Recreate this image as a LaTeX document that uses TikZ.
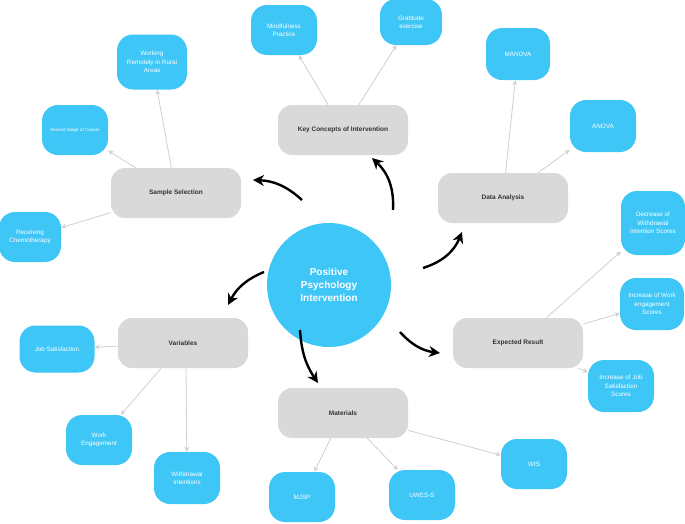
\documentclass[tikz,border=0pt]{standalone}
\usepackage{fontspec}
\setmainfont{Liberation Sans}
\usetikzlibrary{arrows.meta}
\definecolor{cblue}{HTML}{3EC6F7}
\definecolor{cgray}{HTML}{D9D9D9}
\definecolor{cline}{HTML}{CFCFCF}
\begin{document}
\begin{tikzpicture}[x=1pt,y=-1pt,
 gbox/.style={fill=cgray,rounded corners=14pt,minimum width=130pt,minimum height=50pt,font=\fontsize{6.5}{8}\selectfont\bfseries,text=black!80,align=center},
 bbox/.style={fill=cblue,rounded corners=16pt,minimum width=66pt,minimum height=50pt,font=\fontsize{6.3}{8.5}\selectfont,text=white,align=center},
 thin/.style={draw=cline,line width=0.8pt,-{Stealth[length=5pt,width=5pt,open]}},
 thick/.style={line width=2.4pt,-{Stealth[length=11pt,width=11pt]}}]
\useasboundingbox (0,0) rectangle (685,523);
\node[circle,fill=cblue,minimum size=124pt,text=white,align=center,font=\fontsize{10}{13}\selectfont\bfseries] (c) at (329,285) {Positive\\Psychology\\Intervention};
\node[gbox] (key) at (343,130) {Key Concepts of Intervention};
\node[gbox] (samp) at (176,193) {Sample Selection};
\node[gbox] (data) at (503,198) {Data Analysis};
\node[gbox] (var) at (183,343) {Variables};
\node[gbox] (exp) at (518,343) {Expected Result};
\node[gbox] (mat) at (343,413) {Materials};
\node[bbox] (mind) at (284,30) {Mindfulness\\Practice};
\node[bbox,minimum width=62pt,minimum height=46pt] (grat) at (411,22) {Gratitude\\exercise};
\node[bbox,minimum width=70pt,minimum height=55pt] (work) at (152,62) {Working\\Remotely in Rural\\Areas};
\node[bbox,font=\fontsize{4.5}{6}\selectfont] (sec) at (75,130) {Second Stage of Cancer};
\node[bbox,minimum width=62pt] (chem) at (30,237) {Receiving\\Chemotherapy};
\node[bbox,minimum width=64pt,minimum height=52pt] (man) at (518,54) {MANOVA};
\node[bbox,minimum height=52pt] (ano) at (603,126) {ANOVA};
\node[bbox,minimum width=64pt,minimum height=64pt] (dec) at (653,223) {Decrease of\\Withdrawal\\Intention Scores};
\node[bbox,minimum width=64pt,minimum height=52pt] (inw) at (652,304) {Increase of Work\\engagement\\Scores};
\node[bbox,minimum width=66pt,minimum height=52pt] (inj) at (621,386) {Increase of Job\\Satisfaction\\Scores};
\node[bbox,minimum width=75pt,minimum height=47pt] (js) at (57,349) {Job Satisfaction};
\node[bbox] (we) at (99,440) {Work\\Engagement};
\node[bbox,minimum height=52pt] (wi) at (187,478) {Withdrawal\\Intentions};
\node[bbox] (mjsp) at (302,497) {MJSP};
\node[bbox] (uwes) at (422,495) {UWES-S};
\node[bbox] (wis) at (534,464) {WIS};
\draw[thin] (key) -- (mind); \draw[thin] (key) -- (grat);
\draw[thin] (samp) -- (work); \draw[thin] (samp) -- (sec); \draw[thin] (samp) -- (chem);
\draw[thin] (data) -- (man); \draw[thin] (data) -- (ano);
\draw[thin] (exp) -- (dec); \draw[thin] (exp) -- (inw); \draw[thin] (exp) -- (inj);
\draw[thin] (var) -- (js); \draw[thin] (var) -- (we); \draw[thin] ([xshift=3pt]var.south) -- (wi);
\draw[thin] (mat) -- (mjsp); \draw[thin] (mat) -- (uwes); \draw[thin] (mat) -- (wis);
\coordinate (a1) at (393,210); \coordinate (a2) at (302,200); \coordinate (a3) at (423,268);
\coordinate (a4) at (264,272); \coordinate (a5) at (300,330); \coordinate (a6) at (400,332);
\draw[thick] (a1) to[bend right=25] (372,158);
\draw[thick] (a2) to[bend right=20] (253,180);
\draw[thick] (a3) to[bend right=25] (462,232);
\draw[thick] (a4) to[bend right=20] (228,305);
\draw[thick] (a5) to[bend right=15] (318,383);
\draw[thick] (a6) to[bend right=20] (440,353);
\end{tikzpicture}
\end{document}
